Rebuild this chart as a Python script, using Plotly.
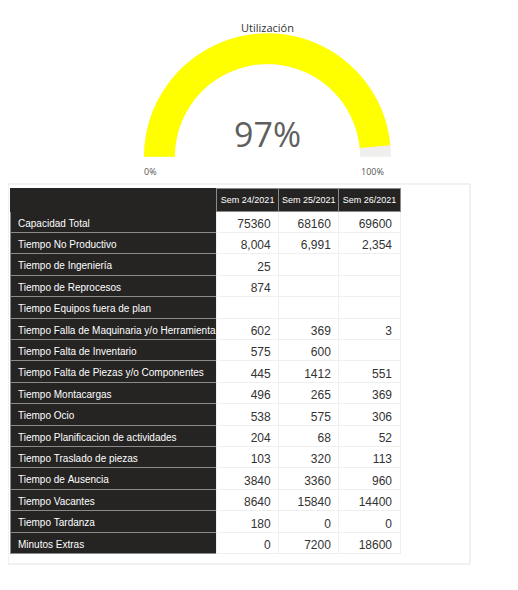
import plotly.graph_objects as go

utilizacion = 97

semanas = ["Sem 24/2021", "Sem 25/2021", "Sem 26/2021"]
conceptos = [
    "Capacidad Total", "Tiempo No Productivo", "Tiempo de Ingeniería",
    "Tiempo de Reprocesos", "Tiempo Equipos fuera de plan",
    "Tiempo Falla de Maquinaria y/o Herramienta", "Tiempo Falta de Inventario",
    "Tiempo Falta de Piezas y/o Componentes", "Tiempo Montacargas", "Tiempo Ocio",
    "Tiempo Planificacion de actividades", "Tiempo Traslado de piezas",
    "Tiempo de Ausencia", "Tiempo Vacantes", "Tiempo Tardanza", "Minutos Extras",
]
sem24 = ["75360", "8,004", "25", "874", "", "602", "575", "445", "496", "538", "204", "103", "3840", "8640", "180", "0"]
sem25 = ["68160", "6,991", "", "", "", "369", "600", "1412", "265", "575", "68", "320", "3360", "15840", "0", "7200"]
sem26 = ["69600", "2,354", "", "", "", "3", "", "551", "369", "306", "52", "113", "960", "14400", "0", "18600"]

W, H = 518, 590
nb = lambda s: s.replace(" ", "\u00a0")  # keep labels on one line
fig = go.Figure()

fig.add_trace(go.Indicator(
    mode="gauge+number",
    value=utilizacion,
    number=dict(suffix="%", font=dict(size=34, color="#5f5f5f", family="Open Sans")),
    gauge=dict(
        shape="angular",
        axis=dict(range=[0, 100], visible=False),
        bar=dict(color="#ffff00", thickness=1),
        bgcolor="#f0efee",
        borderwidth=0,
    ),
    domain=dict(x=[136 / W, 383 / W], y=[1 - 150 / H, 1 - 24 / H]),
))

fig.add_trace(go.Table(
    columnwidth=[206, 62, 60, 61],
    domain=dict(x=[2 / W, 392 / W], y=[0, 1 - 180 / H]),
    header=dict(
        values=[""] + [nb(s) for s in semanas],
        fill_color="#252423",
        line=dict(color=["#252423", "#8a8a8a", "#8a8a8a", "#8a8a8a"], width=1),
        font=dict(color="white", size=9, family="Liberation Sans"),
        align="center", height=23,
    ),
    cells=dict(
        values=[[nb(c) for c in conceptos], sem24, sem25, sem26],
        fill_color=["#252423", "white", "white", "white"],
        line=dict(color=["#8a8a8a", "#efefef", "#efefef", "#efefef"], width=1),
        font=dict(color=["white", "#333333", "#333333", "#333333"],
                  size=[10, 12, 12, 12], family="Liberation Sans"),
        align=["left", "right", "right", "right"], height=21.4,
    ),
))

fig.add_annotation(x=259 / W, y=1 - 10 / H, xref="paper", yref="paper", text="Utilización",
                   showarrow=False, font=dict(size=11, color="#333333", family="Open Sans"))
fig.add_annotation(x=134 / W, y=1 - 155 / H, xref="paper", yref="paper", text="0%",
                   showarrow=False, font=dict(size=9, color="#555555", family="Open Sans"))
fig.add_annotation(x=378 / W, y=1 - 155 / H, xref="paper", yref="paper", text="100%",
                   showarrow=False, font=dict(size=9, color="#555555", family="Open Sans"))
fig.add_shape(type="rect", xref="paper", yref="paper",
              x0=0, x1=462 / W, y0=1 - 556 / H, y1=1 - 176 / H,
              line=dict(color="#e3e3e3", width=1))

fig.update_layout(width=W, height=H, margin=dict(l=0, r=0, t=0, b=0),
                  paper_bgcolor="white", showlegend=False)
fig.write_html("out.html")
